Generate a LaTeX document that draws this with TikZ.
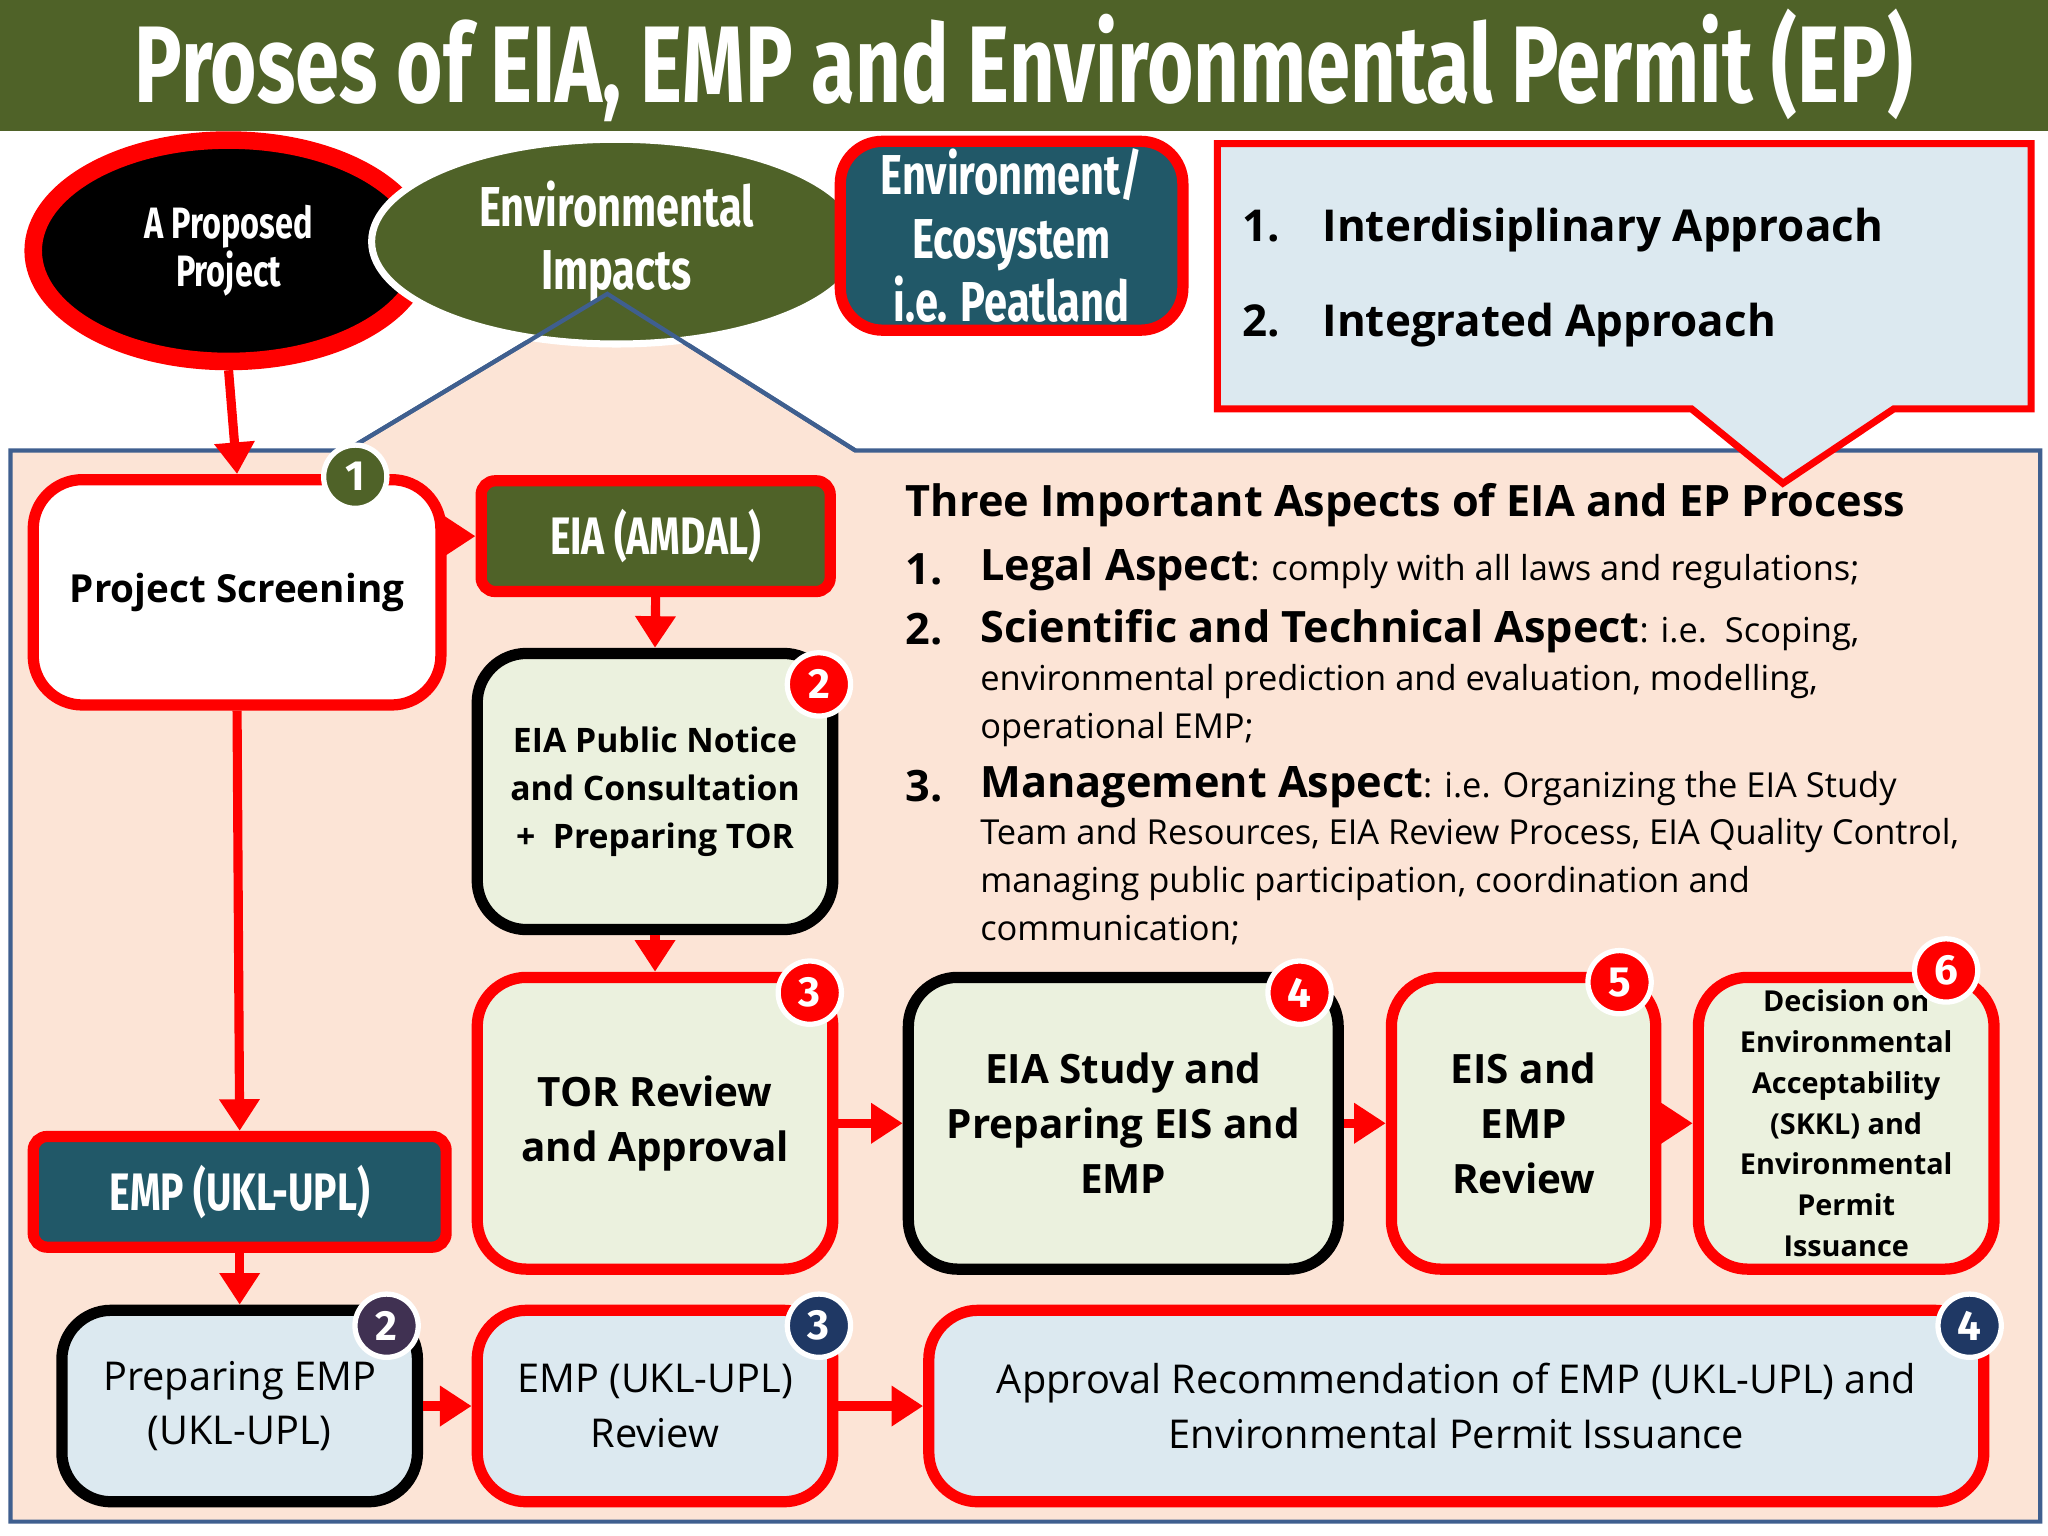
\documentclass[tikz,border=0pt]{standalone}
\usepackage{fontspec}
\setmainfont{Open Sans}
\newfontfamily\imp{Fira Sans}
\usetikzlibrary{arrows.meta,shapes.geometric}
\definecolor{olive}{HTML}{4F6228}
\definecolor{teal2}{HTML}{215868}
\definecolor{peach}{HTML}{FCE4D6}
\definecolor{lblue}{HTML}{DCE9F0}
\definecolor{lgreen}{HTML}{EBF1DE}
\definecolor{bordblue}{HTML}{3F5F8F}
\definecolor{myred}{HTML}{FF0000}
\definecolor{purp}{HTML}{403152}
\definecolor{navy}{HTML}{1F3864}
\newcommand{\im}[1]{\scalebox{0.74}[1]{\imp\bfseries #1}}
\tikzset{
 box/.style={draw=myred,line width=3.2pt,rounded corners=14pt,fill=lgreen,align=center,inner sep=0pt},
 blk/.style={box,draw=black},
 badge/.style={circle,fill=#1,draw=white,line width=1.5pt,minimum size=18pt,inner sep=0pt,text=white,font=\imp\bfseries\fontsize{12}{12}\selectfont},
 arr/.style={draw=myred,line width=2.6pt,-{Triangle[length=9pt,width=11pt]}},
}
\newcommand{\pbox}[7]{\node[#1,minimum width=#4*0.3706pt,minimum height=#5*0.3706pt,#6] (#2) at (#3) {#7};}
\begin{document}
\begin{tikzpicture}[x=0.01306cm,y=-0.01306cm]
\useasboundingbox (0,0) rectangle (1568,1176);
\fill[white] (0,0) rectangle (1568,1176);
% title
\fill[olive] (0,0) rectangle (1568,100);
\node[text=white,font=\fontsize{31}{31}\selectfont] (title) at (784,50) {\scalebox{0.73}[1]{\imp\bfseries Proses of EIA, EMP and Environmental Permit (EP)}};
% main panel
\filldraw[fill=peach,draw=bordblue,line width=1.2pt] (8,345) -- (265,345) -- (465,225) -- (655,345) -- (1562,345) -- (1562,1165) -- (8,1165) -- cycle;
% callout
\filldraw[fill=lblue,draw=myred,line width=2pt] (932,110) -- (1555,110) -- (1555,313) -- (1450,313) -- (1365,370) -- (1295,313) -- (932,313) -- cycle;
\node[anchor=west,font=\bfseries\fontsize{12.5}{16}\selectfont] (i1) at (942,176) {1.\hspace{12pt}Interdisiplinary Approach};
\node[anchor=west,font=\bfseries\fontsize{12.5}{16}\selectfont] (i2) at (942,249) {2.\hspace{12pt}Integrated Approach};
% ellipses
\node[ellipse,draw=myred,line width=5pt,fill=black,minimum width=300*0.3706pt,minimum height=170*0.3706pt,text=white,align=center,font=\fontsize{12.5}{13.5}\selectfont] (pp) at (175,192) {\im{A Proposed}\\\im{Project}};
\node[ellipse,draw=white,line width=2pt,fill=olive,minimum width=376*0.3706pt,minimum height=150*0.3706pt,text=white,align=center,font=\fontsize{16}{18}\selectfont] (ei) at (472,185) {\im{Environmental}\\\im{Impacts}};
\draw[bordblue,line width=1.2pt] (265,345) -- (465,225) -- (655,345);
\pbox{box,fill=teal2,rounded corners=12pt}{eco}{774.5,180.5}{263}{145}{text=white,font=\fontsize{16}{18}\selectfont}{\im{Environment/}\\\im{Ecosystem}\\\im{i.e. Peatland}}
% flow boxes
\pbox{box,fill=white}{ps}{181.5,453.5}{313}{173}{font=\bfseries\fontsize{11}{14}\selectfont}{Project Screening}
\pbox{box,fill=olive,rounded corners=4pt}{amdal}{502,410.5}{268}{85}{text=white,font=\fontsize{15}{16}\selectfont}{\im{EIA (AMDAL)}}
\pbox{blk}{notice}{501.5,606}{273}{212}{font=\bfseries\fontsize{9.6}{13.6}\selectfont}{EIA Public Notice\\and Consultation\\+~~Preparing TOR}
\pbox{box}{tor}{501.5,860}{273}{224}{font=\bfseries\fontsize{11.5}{15.6}\selectfont}{TOR Review\\and Approval}
\pbox{blk}{study}{860,860}{330}{224}{font=\bfseries\fontsize{11.5}{15.6}\selectfont}{EIA Study and\\Preparing EIS and\\EMP}
\pbox{box}{eis}{1166.5,860}{203}{224}{font=\bfseries\fontsize{11.5}{15.6}\selectfont}{EIS and\\EMP\\Review}
\pbox{box}{dec}{1413.5,860}{227}{224}{font=\bfseries\fontsize{8.2}{11.6}\selectfont}{Decision on\\Environmental\\Acceptability\\(SKKL) and\\Environmental\\Permit\\Issuance}
\pbox{box,fill=teal2,rounded corners=4pt}{emp}{183.5,912.5}{317}{85}{text=white,font=\fontsize{15}{16}\selectfont}{\im{EMP (UKL-UPL)}}
\pbox{blk,fill=lblue}{prep}{183.5,1076.5}{273}{147}{font=\fontsize{11.3}{15.6}\selectfont}{Preparing EMP\\(UKL-UPL)}
\pbox{box,fill=lblue}{rev}{501.5,1076.5}{273}{147}{font=\fontsize{11.3}{15.6}\selectfont}{EMP (UKL-UPL)\\Review}
\pbox{box,fill=lblue}{appr}{1115,1076.5}{810}{147}{font=\fontsize{11.3}{15.6}\selectfont}{Approval Recommendation of EMP (UKL-UPL) and\\Environmental Permit Issuance}
% arrows
\draw[arr] (pp.south) -- (ps.north);
\draw[arr] (ps.south) -- (emp.north);
\draw[arr] (ps.east|-amdal) -- (amdal.west);
\draw[arr] (amdal.south) -- (notice.north);
\draw[arr] (notice.south) -- (tor.north);
\draw[arr] (tor.east) -- (study.west);
\draw[arr] (study.east) -- (eis.west);
\draw[arr] (eis.east) -- (dec.west);
\draw[arr] (emp.south) -- (prep.north);
\draw[arr] (prep.east) -- (rev.west);
\draw[arr] (rev.east) -- (appr.west);
% badges
\node[badge=olive] (b1) at (272,365) {1};
\node[badge=myred] (b2) at (627,524) {2};
\node[badge=myred] (b3) at (620,760) {3};
\node[badge=myred] (b4) at (995,760) {4};
\node[badge=myred] (b5) at (1240,752) {5};
\node[badge=myred] (b6) at (1490,743) {6};
\node[badge=purp] (c2) at (296,1015) {2};
\node[badge=navy] (c3) at (627,1015) {3};
\node[badge=navy] (c4) at (1508,1015) {4};
% aspects text
\node[anchor=west,font=\bfseries\fontsize{12.3}{16}\selectfont] (h) at (684,387) {Three Important Aspects of EIA and EP Process};
\node[anchor=west,font=\bfseries\fontsize{12.3}{16}\selectfont] (n1) at (684,436) {1.};
\node[anchor=west,font=\fontsize{9.8}{13.6}\selectfont,inner sep=0pt] (t1) at (750,436) {{\bfseries\fontsize{12.3}{16}\selectfont Legal Aspect}: comply with all laws and regulations;};
\node[anchor=west,font=\bfseries\fontsize{12.3}{16}\selectfont] (n2) at (684,482) {2.};
\node[anchor=north west,align=left,font=\fontsize{9.8}{13.6}\selectfont,inner sep=0pt] (t2) at (750,466) {{\bfseries\fontsize{12.3}{16}\selectfont Scientific and Technical Aspect}: i.e.\ \ Scoping,\\environmental prediction and evaluation, modelling,\\operational EMP;};
\node[anchor=west,font=\bfseries\fontsize{12.3}{16}\selectfont] (n3) at (684,602) {3.};
\node[anchor=north west,align=left,font=\fontsize{9.8}{13.6}\selectfont,inner sep=0pt] (t3) at (750,586) {{\bfseries\fontsize{12.3}{16}\selectfont Management Aspect}: i.e. Organizing the EIA Study\\Team and Resources, EIA Review Process, EIA Quality Control,\\managing public participation, coordination and\\communication;};
\end{tikzpicture}
\end{document}
